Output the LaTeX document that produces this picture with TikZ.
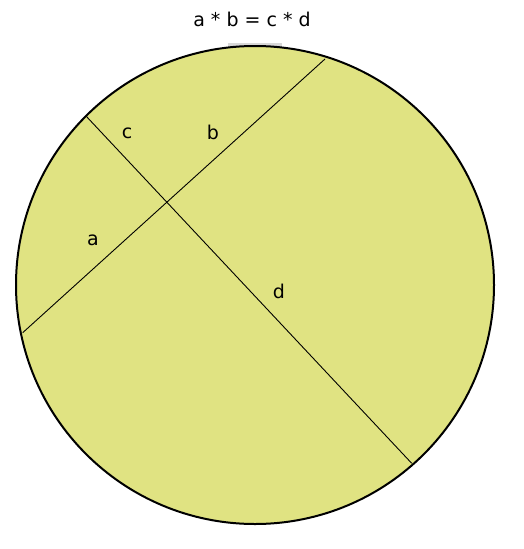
\documentclass[tikz,border=0pt]{standalone}
\usepackage{fontspec}
\setmainfont{DejaVu Sans}
\definecolor{discfill}{RGB}{224,227,130}
\definecolor{tabgray}{RGB}{216,216,216}
\begin{document}
\begin{tikzpicture}[x=1pt,y=-1pt,
  disc/.style={draw=black,line width=2pt,fill=discfill},
  chordline/.style={draw=black,line width=0.9pt},
  lbl/.style={font=\fontsize{19}{22}\selectfont,inner sep=0pt}]
\useasboundingbox (0,0) rectangle (523,549);
\fill[tabgray] (228,42.5) rectangle (282,47);
\draw[disc] (255,285) circle (239);
\coordinate (A1) at (22.7,332.7);
\coordinate (A2) at (325,59);
\coordinate (B1) at (86,116);
\coordinate (B2) at (411.7,463.3);
\draw[chordline] (A1) -- (A2);
\draw[chordline] (B1) -- (B2);
\node[lbl] (title) at (252,19) {a * b = c * d};
\node[lbl] (lc) at (127,133) {c};
\node[lbl] (lb) at (213,132) {b};
\node[lbl] (la) at (93,240) {a};
\node[lbl] (ld) at (279,291) {d};
\end{tikzpicture}
\end{document}
